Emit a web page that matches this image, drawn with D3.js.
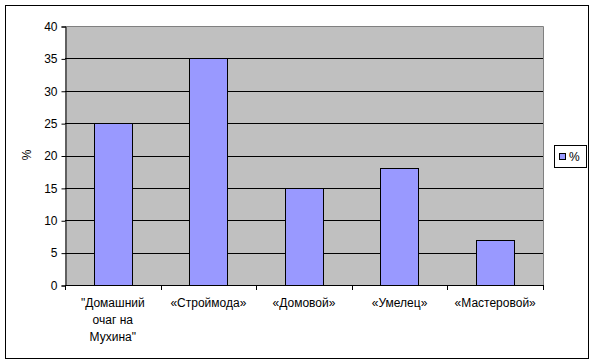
<!DOCTYPE html>
<html>
<head>
<meta charset="utf-8">
<script src="https://cdn.jsdelivr.net/npm/d3@7"></script>
<style>
  body { margin: 0; background: #fff; }
  svg { display: block; font-family: "Liberation Sans", Arial, sans-serif; }
</style>
</head>
<body>
<div id="chart"></div>
<script>
// data
var categories = ['"Домашний очаг на Мухина"', '«Строймода»', '«Домовой»', '«Умелец»', '«Мастеровой»'];
var categoryLines = [['"Домашний', 'очаг на', 'Мухина"'], ['«Строймода»'], ['«Домовой»'], ['«Умелец»'], ['«Мастеровой»']];
var values = [25, 35, 15, 18, 7];
var yTicks = [0, 5, 10, 15, 20, 25, 30, 35, 40];
var seriesName = '%';

var width = 595, height = 364;
var plot = { left: 65, top: 26, right: 543, bottom: 285 };

var svg = d3.select('#chart').append('svg')
    .attr('width', width)
    .attr('height', height);

// outer frame
svg.append('rect')
    .attr('x', 5.5).attr('y', 5.5)
    .attr('width', 583).attr('height', 353)
    .attr('fill', '#fff').attr('stroke', '#000');

var x = d3.scaleBand().domain(categories).range([plot.left, plot.right]).paddingInner(0.6).paddingOuter(0.3);
var xb = d3.scaleBand().domain(categories).range([plot.left, plot.right]);
var y = d3.scaleLinear().domain([0, 40]).range([plot.bottom, plot.top]);

// plot area
svg.append('rect')
    .attr('x', plot.left).attr('y', plot.top)
    .attr('width', plot.right - plot.left).attr('height', plot.bottom - plot.top)
    .attr('fill', '#c0c0c0');

// gridlines
svg.append('g').selectAll('line').data(yTicks.filter(function (d) { return d > 0 && d < 40; }))
    .enter().append('line')
    .attr('x1', plot.left).attr('x2', plot.right)
    .attr('y1', function (d) { return Math.round(y(d)) + 0.5; })
    .attr('y2', function (d) { return Math.round(y(d)) + 0.5; })
    .attr('stroke', '#000');

// top and right border of plot area (gray)
svg.append('path')
    .attr('d', 'M' + plot.left + ',' + (plot.top + 0.5) + 'H' + (plot.right + 0.5) + 'V' + plot.bottom)
    .attr('fill', 'none').attr('stroke', '#808080');

// bars
svg.append('g').selectAll('rect').data(values)
    .enter().append('rect')
    .attr('x', function (d, i) { return Math.round(x(categories[i])) + 0.5; })
    .attr('y', function (d) { return Math.round(y(d)) + 0.5; })
    .attr('width', Math.round(x.bandwidth()))
    .attr('height', function (d) { return Math.round(y(0)) - Math.round(y(d)); })
    .attr('fill', '#9999ff')
    .attr('stroke', '#000');

// y axis
var yAxis = d3.axisLeft(y).tickValues(yTicks).tickSize(4).tickPadding(4);
var gy = svg.append('g')
    .attr('transform', 'translate(' + (plot.left + 0.5) + ',0.5)')
    .call(yAxis);
gy.select('.domain').attr('stroke', '#000');
gy.selectAll('text').attr('font-size', 12).attr('fill', '#000').attr('font-family', '"Liberation Sans", Arial, sans-serif');

// x axis line and ticks at category boundaries
var gx = svg.append('g');
gx.append('line')
    .attr('x1', plot.left).attr('x2', plot.right + 1)
    .attr('y1', plot.bottom + 0.5).attr('y2', plot.bottom + 0.5)
    .attr('stroke', '#000');
var bounds = categories.map(function (c) { return xb(c); }).concat([plot.right]);
gx.selectAll('line.tick').data(bounds).enter().append('line')
    .attr('class', 'tick')
    .attr('x1', function (d) { return Math.round(d) + 0.5; })
    .attr('x2', function (d) { return Math.round(d) + 0.5; })
    .attr('y1', plot.bottom).attr('y2', plot.bottom + 5)
    .attr('stroke', '#000');

// category labels
var labels = gx.selectAll('text.cat').data(categories).enter().append('text')
    .attr('class', 'cat')
    .attr('text-anchor', 'middle')
    .attr('font-size', 12)
    .attr('x', function (d) { return xb(d) + xb.bandwidth() / 2; })
    .attr('y', 307);
labels.each(function (d, i) {
    var t = d3.select(this);
    categoryLines[i].forEach(function (line, j) {
        t.append('tspan')
            .attr('x', xb(d) + xb.bandwidth() / 2)
            .attr('dy', j === 0 ? 0 : 17)
            .text(line);
    });
});

// y axis title
svg.append('text')
    .attr('transform', 'translate(31,155) rotate(-90)')
    .attr('text-anchor', 'middle')
    .attr('font-size', 12)
    .text(seriesName);

// legend
var lg = svg.append('g');
lg.append('rect')
    .attr('x', 554.5).attr('y', 145.5).attr('width', 32).attr('height', 22)
    .attr('fill', '#fff').attr('stroke', '#000');
lg.append('rect')
    .attr('x', 559.5).attr('y', 153.5).attr('width', 6).attr('height', 6)
    .attr('fill', '#9999ff').attr('stroke', '#000');
lg.append('text')
    .attr('x', 569).attr('y', 161)
    .attr('font-size', 12)
    .text(seriesName);
</script>
</body>
</html>
